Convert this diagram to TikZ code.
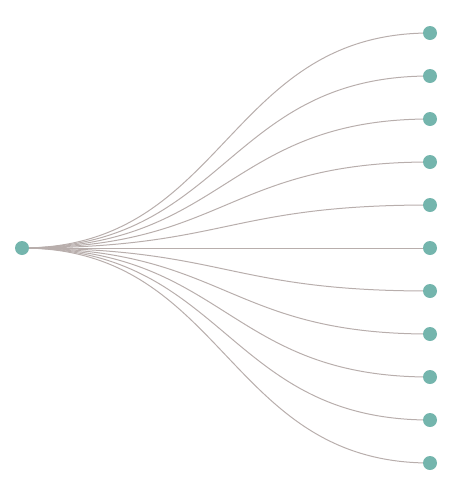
\documentclass[tikz,border=0pt]{standalone}
\usetikzlibrary{backgrounds}
\definecolor{nodeteal}{HTML}{74B5AD}
\definecolor{linkgray}{HTML}{B8AEAC}
\begin{document}
\begin{tikzpicture}[x=1pt,y=-1pt,
  dot/.style={circle,fill=nodeteal,draw=none,minimum size=14pt,inner sep=0pt},
  link/.style={draw=linkgray,line width=1pt}]
\useasboundingbox (0,0) rectangle (452,488);
\node[dot] (r) at (22,248) {};
\foreach \i/\y in {1/33,2/76,3/119,4/162,5/205,6/248,7/291,8/334,9/377,10/420,11/463}{
  \node[dot] (n\i) at (430,\y) {};
}
\begin{scope}[on background layer]
\foreach \i in {1,...,11}{
  \draw[link] (r.center) .. controls +(204,0) and +(-204,0) .. (n\i.center);
}
\end{scope}
\end{tikzpicture}
\end{document}
